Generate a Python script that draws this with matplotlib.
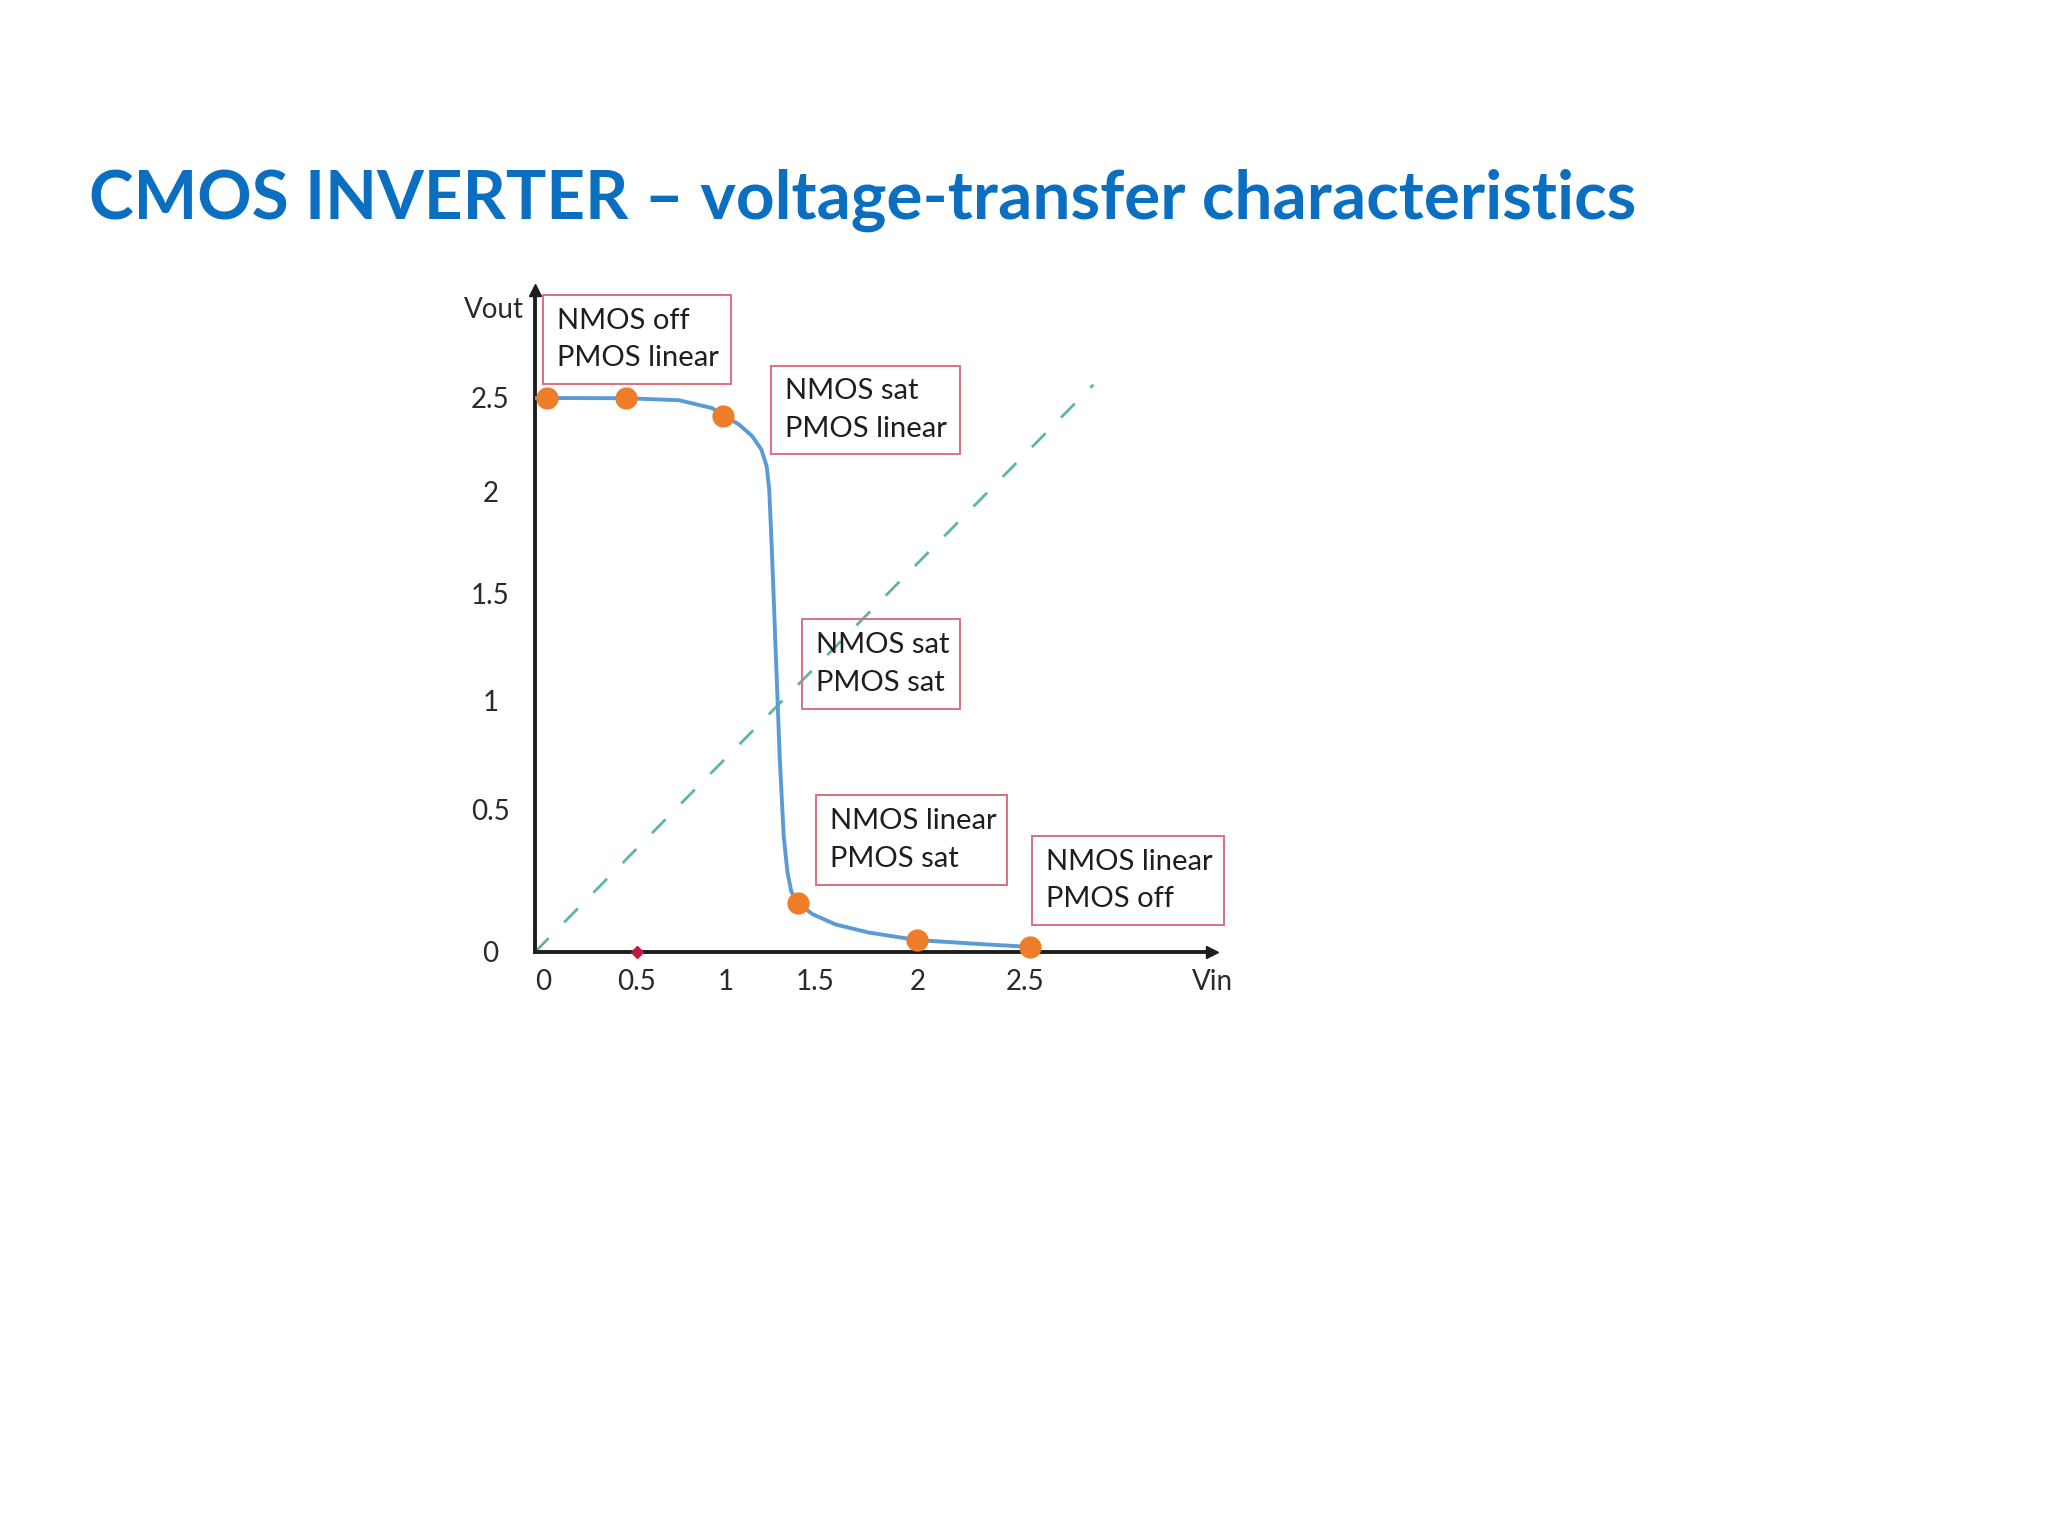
import matplotlib
matplotlib.use("Agg")
import matplotlib.pyplot as plt
from matplotlib.patches import Rectangle

plt.rcParams['font.family'] = ['Lato', 'DejaVu Sans']

# curve (Vin, Vout)
vin_curve = [0, 0.068, 0.458, 0.727, 0.892, 0.952, 1.031, 1.097, 1.143, 1.170,
             1.183, 1.196, 1.216, 1.236, 1.256, 1.275, 1.295, 1.333, 1.401, 1.519,
             1.684, 1.929, 2.245, 2.5]
vout_curve = [2.5, 2.5, 2.499, 2.49, 2.455, 2.422, 2.380, 2.328, 2.268, 2.192,
              2.086, 1.821, 1.349, 0.878, 0.524, 0.359, 0.271, 0.217, 0.171, 0.124,
              0.088, 0.054, 0.036, 0.023]

# orange operating points
vin_pts = [0.06, 0.46, 0.95, 1.33, 1.93, 2.5]
vout_pts = [2.5, 2.5, 2.42, 0.22, 0.054, 0.023]

# Vin = Vout guide line
ref_x = [0, 2.82]
ref_y = [0, 2.56]

tick_labels = ['0', '0.5', '1', '1.5', '2', '2.5']
xtick_pos = [0.04, 0.515, 0.965, 1.414, 1.934, 2.475]
ytick_pos = [0, 0.641, 1.133, 1.62, 2.08, 2.5]

region_labels = ["NMOS off\nPMOS linear", "NMOS sat\nPMOS linear", "NMOS sat\nPMOS sat",
                 "NMOS linear\nPMOS sat", "NMOS linear\nPMOS off"]
# box corners in pixels (left, top, right, bottom)
region_boxes = [(543, 295, 731, 384), (771, 366, 960, 454), (802, 619, 960, 709),
                (816, 795, 1007, 885), (1032, 836, 1224, 925)]

W, H = 2048, 1539
fig = plt.figure(figsize=(W / 100, H / 100), dpi=100)

# axes box: origin at (535, 952) px, arrows at x=1212 and y=290
x0, y0, x1, y1 = 535, 952, 1212, 290
ax = fig.add_axes([x0 / W, 1 - y0 / H, (x1 - x0) / W, (y0 - y1) / H])
ax.set_xlim(0, (x1 - x0) / 198)
ax.set_ylim(0, (y0 - y1) / 221.6)

for s in ['top', 'right']:
    ax.spines[s].set_visible(False)
for s in ['left', 'bottom']:
    ax.spines[s].set_linewidth(2.8)
    ax.spines[s].set_color('#1e1e1e')
ax.plot(1, 0, '>', color='#1e1e1e', ms=9, transform=ax.transAxes, clip_on=False)
ax.plot(0, 1, '^', color='#1e1e1e', ms=9, transform=ax.transAxes, clip_on=False)

ax.plot(ref_x, ref_y, color='#5fb5a3', lw=2.0, dashes=(7, 8), zorder=2)
ax.plot(vin_curve, vout_curve, color='#5b9bd5', lw=2.8, zorder=3,
        solid_capstyle='round', solid_joinstyle='round')
ax.plot(vin_pts, vout_pts, 'o', color='#ee7d2a', ms=15, zorder=4, clip_on=False)
ax.plot(xtick_pos[1], 0, 'D', color='#c0183a', ms=6, zorder=5, clip_on=False)

ax.set_xticks(xtick_pos, tick_labels)
ax.set_yticks(ytick_pos, tick_labels)
ax.tick_params(axis='both', length=0, labelsize=20, labelcolor='#2a2a2a')
ax.tick_params(axis='x', pad=12)
ax.tick_params(axis='y', pad=32)
for lab in ax.get_yticklabels():
    lab.set_horizontalalignment('center')

fig.text(494 / W, 1 - 310 / H, 'Vout', fontsize=20, color='#2a2a2a', ha='center', va='center')
fig.text(1212 / W, 1 - 982 / H, 'Vin', fontsize=20, color='#2a2a2a', ha='center', va='center')

for text, (l, t, r, b) in zip(region_labels, region_boxes):
    fig.patches.append(Rectangle((l / W, 1 - b / H), (r - l) / W, (b - t) / H,
                                 transform=fig.transFigure, fill=False,
                                 edgecolor='#dc7080', lw=1.4, zorder=6))
    fig.text((l + 14) / W, 1 - ((t + b) / 2) / H, text, fontsize=21, color='#1e1e1e',
             ha='left', va='center', linespacing=1.56, zorder=7)

title = fig.text(89 / W, 1 - 219 / H, 'CMOS INVERTER \u2013 voltage-transfer characteristics',
                 fontsize=50, fontweight='bold', color='#0a6fc0', ha='left', va='baseline')
fig.canvas.draw()
tw = title.get_window_extent().width
title.set_fontsize(50 * 1550 / tw)

fig.savefig('out.png', dpi=100)
